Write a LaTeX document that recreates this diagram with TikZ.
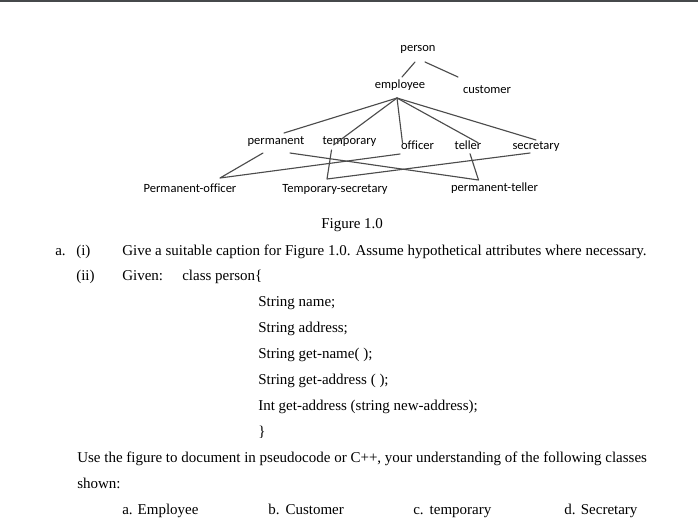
\documentclass[tikz,border=0pt]{standalone}
\usepackage{fontspec}
\setmainfont{Liberation Serif}
\newfontfamily\diagfont{Carlito}[Ligatures=NoCommon]
\usetikzlibrary{calc}
\definecolor{barcol}{RGB}{70,73,75}

\begin{document}
\begin{tikzpicture}[x=0.75pt,y=-0.75pt,line cap=round,line join=round,
    cls/.style={inner sep=0pt,text height=6.5pt,text depth=2pt,font=\diagfont\fontsize{9.4}{11}\selectfont},
    link/.style={line width=0.85pt,color=black!70},
    txt/.style={inner sep=0pt,anchor=base west,font=\fontsize{11.25}{13}\selectfont}]
  \useasboundingbox (0,0) rectangle (698,529);
  \fill[color=barcol] (0,0) rectangle (698,2);
  % class hierarchy
  \node[cls] (person) at (418,48) {person};
  \node[cls] (employee) at (400,85) {employee};
  \node[cls] (customer) at (487,90) {customer};
  \node[cls] (permanent) at (276,141) {permanent};
  \node[cls] (temporary) at (349.5,141) {temporary};
  \node[cls] (officer) at (417.5,146) {officer};
  \node[cls] (teller) at (468,146.7) {teller};
  \node[cls] (secretary) at (536,146) {secretary};
  \node[cls] (permofficer) at (190,189) {Permanent-officer};
  \node[cls] (tempsecretary) at (335,189) {Temporary-secretary};
  \node[cls] (permteller) at (494.5,188) {permanent-teller};
  \coordinate (hub) at ($(employee)+(-3,13)$);
  \draw[link] ($(person)+(-3,14)$) -- ($(employee)+(2,-8)$);
  \draw[link] ($(person)+(7,14)$) -- ($(customer)+(-29,-13)$);
  \draw[link] (hub) -- ($(permanent)+(8,-8)$);
  \draw[link] (hub) -- ($(temporary)+(-16,4)$);
  \draw[link] (hub) -- ($(officer)+(-15,-3)$);
  \draw[link] (hub) -- ($(teller)+(10,-4)$);
  \draw[link] (hub) -- ($(secretary)+(0,-6)$);
  \draw[link] ($(permanent)+(-13,12)$) -- ($(permofficer)+(30,-11)$) -- ($(officer)+(-17.5,8)$);
  \draw[link] ($(temporary)+(-18,9)$) -- ($(tempsecretary)+(-8,-10)$) -- ($(secretary)+(-6,7)$);
  \draw[link] ($(permanent)+(14,12)$) -- ($(permteller)+(-16,-8)$) -- ($(teller)+(2,7)$);
  % question text
  \node[txt] (figcap) at (321,228) {Figure 1.0};
  \node[txt] (qa) at (55,255) {a.};
  \node[txt] (qi) at (76,255) {(i)};
  \node[txt] (qitext) at (122,255) {Give a suitable caption for Figure 1.0. Assume hypothetical attributes where necessary.};
  \node[txt] (qii) at (76,280) {(ii)};
  \node[txt] (given) at (122,280) {Given:};
  \node[txt] (classhead) at (182,280) {class person\{};
  \node[txt] (line1) at (258,306) {String name;};
  \node[txt] (line2) at (258,332) {String address;};
  \node[txt] (line3) at (258,358) {String get-name( );};
  \node[txt] (line4) at (258,384) {String get-address ( );};
  \node[txt] (line5) at (258,410) {Int get-address (string new-address);};
  \node[txt] (line6) at (258,436) {\}};
  \node[txt] (usefig) at (77,462) {Use the figure to document in pseudocode or C++, your understanding of the following classes};
  \node[txt] (shown) at (77,488) {shown:};
  \node[txt] (opta) at (122,514) {a. Employee};
  \node[txt] (optb) at (268,514) {b.\hspace{4.5pt}Customer};
  \node[txt] (optc) at (413,514) {c.\hspace{4.5pt}temporary};
  \node[txt] (optd) at (564,514) {d.\hspace{4pt}Secretary};
\end{tikzpicture}
\end{document}
